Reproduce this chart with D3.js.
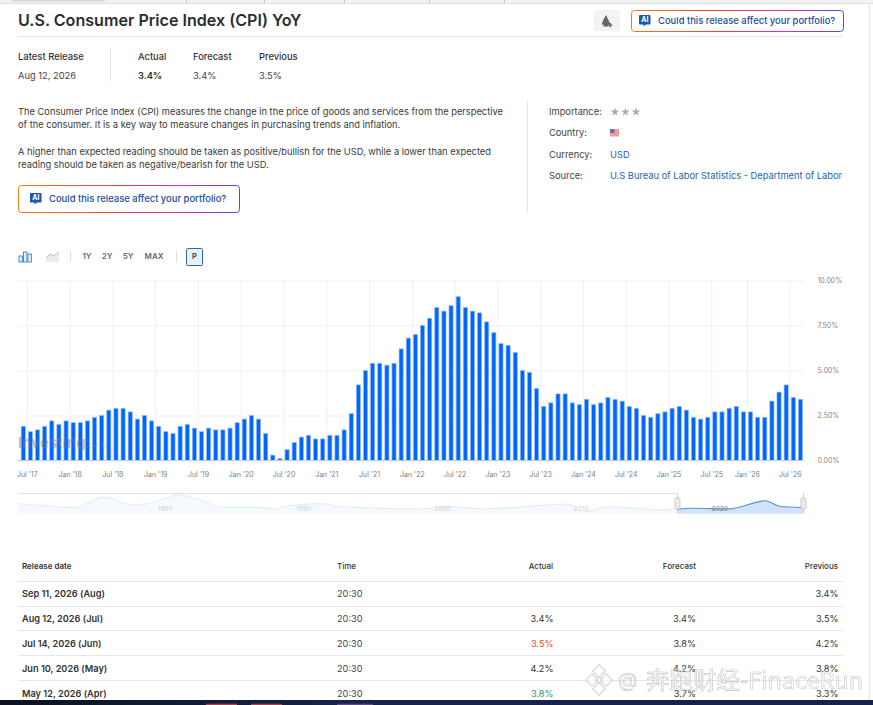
<!DOCTYPE html>
<html>
<head>
<meta charset="utf-8">
<script src="https://cdn.jsdelivr.net/npm/d3@7/dist/d3.min.js"></script>
<style>
html,body{margin:0;padding:0;background:#fff;overflow:hidden}
svg{display:block;font-family:Inter,"Noto Sans",sans-serif}
</style>
</head>
<body>
<svg id="c" width="873" height="705"></svg>
<script>
// ---------- chart data ----------
const releaseMonths = [
"Jun '17","Jul '17","Aug '17","Sep '17","Oct '17","Nov '17","Dec '17",
"Jan '18","Feb '18","Mar '18","Apr '18","May '18","Jun '18","Jul '18","Aug '18","Sep '18","Oct '18","Nov '18","Dec '18",
"Jan '19","Feb '19","Mar '19","Apr '19","May '19","Jun '19","Jul '19","Aug '19","Sep '19","Oct '19","Nov '19","Dec '19",
"Jan '20","Feb '20","Mar '20","Apr '20","May '20","Jun '20","Jul '20","Aug '20","Sep '20","Oct '20","Nov '20","Dec '20",
"Jan '21","Feb '21","Mar '21","Apr '21","May '21","Jun '21","Jul '21","Aug '21","Sep '21","Oct '21","Nov '21","Dec '21",
"Jan '22","Feb '22","Mar '22","Apr '22","May '22","Jun '22","Jul '22","Aug '22","Sep '22","Oct '22","Nov '22","Dec '22",
"Jan '23","Feb '23","Mar '23","Apr '23","May '23","Jun '23","Jul '23","Aug '23","Sep '23","Oct '23","Nov '23","Dec '23",
"Jan '24","Feb '24","Mar '24","Apr '24","May '24","Jun '24","Jul '24","Aug '24","Sep '24","Oct '24","Nov '24","Dec '24",
"Jan '25","Feb '25","Mar '25","Apr '25","May '25","Jun '25","Jul '25","Aug '25","Sep '25","Oct '25","Dec '25",
"Jan '26","Feb '26","Mar '26","Apr '26","May '26","Jun '26","Jul '26","Aug '26"];
const cpiValues = [
1.9,1.6,1.7,1.9,2.2,2.0,2.2,
2.1,2.1,2.2,2.4,2.5,2.8,2.9,2.9,2.7,2.3,2.5,2.2,
1.9,1.6,1.5,1.9,2.0,1.8,1.6,1.8,1.7,1.7,1.8,2.1,
2.3,2.5,2.3,1.5,0.3,0.1,0.6,1.0,1.3,1.4,1.2,1.2,
1.4,1.4,1.7,2.6,4.2,5.0,5.4,5.4,5.3,5.4,6.2,6.8,
7.0,7.5,7.9,8.5,8.3,8.6,9.1,8.5,8.3,8.2,7.7,7.1,
6.5,6.4,6.0,5.0,4.9,4.0,3.0,3.2,3.7,3.7,3.2,3.1,
3.4,3.1,3.2,3.5,3.4,3.3,3.0,2.9,2.5,2.4,2.6,2.7,
2.9,3.0,2.8,2.4,2.3,2.4,2.7,2.7,2.9,3.0,2.7,
2.7,2.4,2.4,3.3,3.8,4.2,3.5,3.4];
const xTickLabels = ["Jul '17","Jan '18","Jul '18","Jan '19","Jul '19","Jan '20","Jul '20","Jan '21","Jul '21","Jan '22","Jul '22","Jan '23","Jul '23","Jan '24","Jul '24","Jan '25","Jul '25","Jan '26","Jul '26"];
const yTickValues = [0,2.5,5,7.5,10];

const navYears  = [1969.4,1971,1973.4,1975.6,1977.6,1979,1981,1982.5,1984.2,1987,1987.8,1989,1991.4,1992.6,1998.6,2000.6,2003,2009,2010.2,2011.9,2015.9,2018,2020.7,2023.3,2024.3,2026];
const navValues = [6.9,5.4,3.5,12.7,6.0,7.5,14.8,10.5,3.5,3.5,2.3,5.3,6.9,4.4,2.3,4.4,2.3,6.6,-0.2,4.4,1.4,2.9,2.3,9.6,4.7,3.5];
const navTickYears = [1980,1990,2000,2010,2020];

const tableHeads = ["Release date","Time","Actual","Forecast","Previous"];
const rowDates = ["Sep 11, 2026 (Aug)","Aug 12, 2026 (Jul)","Jul 14, 2026 (Jun)","Jun 10, 2026 (May)","May 12, 2026 (Apr)"];
const rowTimes = ["20:30","20:30","20:30","20:30","20:30"];
const rowActual = ["","3.4%","3.5%","4.2%","3.8%"];
const rowActualTone = ["","n","r","n","g"];
const rowForecast = ["","3.4%","3.8%","4.2%","3.7%"];
const rowPrevious = ["3.4%","3.5%","4.2%","3.8%","3.3%"];

const description = [
"The Consumer Price Index (CPI) measures the change in the price of goods and services from the perspective",
"of the consumer. It is a key way to measure changes in purchasing trends and inflation.",
"A higher than expected reading should be taken as positive/bullish for the USD, while a lower than expected",
"reading should be taken as negative/bearish for the USD."];
const rangeButtons = ["1Y","2Y","5Y","MAX"];

// ---------- helpers ----------
const svg = d3.select("#c");
const defs = svg.append("defs");
function T(x,y,s,o={}){
  return svg.append("text").attr("x",x).attr("y",y).text(s)
    .attr("font-size",o.size||9.3).attr("font-weight",o.w||400)
    .attr("fill",o.fill||"#333").attr("text-anchor",o.a||"start")
    .attr("dominant-baseline","central");
}
function L(x1,y1,x2,y2,c,w=1){svg.append("line").attr("x1",x1).attr("y1",y1).attr("x2",x2).attr("y2",y2).attr("stroke",c).attr("stroke-width",w);}
const grad = defs.append("linearGradient").attr("id","aiG");
[["0%","#f97a12"],["45%","#ef3b3b"],["70%","#e0309a"],["88%","#8a3be0"],["100%","#3b55e6"]].forEach(s=>grad.append("stop").attr("offset",s[0]).attr("stop-color",s[1]));
function aiButton(x,y,w,h,iconX,textX){
  svg.append("rect").attr("x",x+.5).attr("y",y+.5).attr("width",w).attr("height",h).attr("rx",3)
    .attr("fill","#fff").attr("stroke","url(#aiG)").attr("stroke-width",1);
  const cy=y+h/2;
  svg.append("path").attr("fill","#1c57a8")
    .attr("d",`M${iconX+1} ${cy-5.5}h9.5a1 1 0 0 1 1 1v7.5a1 1 0 0 1 -1 1h-3.5l-2.5 2v-2h-3.5a1 1 0 0 1 -1 -1v-7.5a1 1 0 0 1 1 -1z`);
  T(iconX+5.8,cy-.8,"AI",{size:7,w:700,fill:"#fff",a:"middle"});
  T(textX,cy,"Could this release affect your portfolio?",{size:9.43,w:500,fill:"#1d4e9c"});
}

// ---------- page chrome ----------
svg.append("rect").attr("x",0).attr("y",0).attr("width",873).attr("height",4).attr("fill","#f3f3f3");
L(0,3.5,873,3.5,"#dfdfdf");
svg.append("rect").attr("x",12).attr("y",0).attr("width",93).attr("height",1.5).attr("fill","#d8d8d8");
[186,264,344,429,504].forEach(x=>L(x+.5,0,x+.5,3,"#c8c8c8"));
L(869.5,4,869.5,700,"#e6e6e6");

T(18,20,"U.S. Consumer Price Index (CPI) YoY",{size:16.1,w:600,fill:"#2a2e33"});
L(18,36.5,843,36.5,"#e9e9e9");
svg.append("rect").attr("x",594).attr("y",10).attr("width",26).attr("height",21).attr("rx",3).attr("fill","#f1f3f4");
svg.append("path").attr("fill","#666").attr("d","M606 15l2.5 5 1.5 4h-1l-1 2.5h-4.5v-2h-1.8l1.3-4zM609.5 23h1.5v1.4h1.4v1.4h-1.4v1.4h-1.5v-1.4h-1.4v-1.4h1.4z");
aiButton(631,10,212,21,639,658);

T(18,56,"Latest Release",{w:500,size:9.45});
T(18,75,"Aug 12, 2026",{fill:"#444"});
L(110.5,48,110.5,81,"#e6e6e6");
T(138,56,"Actual",{w:500});
T(193,56,"Forecast",{w:500});
T(259,56,"Previous",{w:500});
T(138,75,"3.4%",{w:600});
T(193,75,"3.4%",{fill:"#444"});
T(259,75,"3.5%",{fill:"#444"});

[111.5,124.5,151.5,164.5].forEach((y,i)=>T(18,y,description[i],{fill:"#3a3a3a"}));
L(527.5,100,527.5,213,"#e6e6e6");
[["Importance:",111.5],["Country:",132.5],["Currency:",154.5],["Source:",175.5]].forEach(d=>T(549,d[1],d[0],{fill:"#444"}));
[615,625.5,636].forEach(x=>{
  const star=d3.symbol().type(d3.symbolStar).size(24)();
  svg.append("path").attr("d",star).attr("transform",`translate(${x},112)`).attr("fill","#adadad");
});
svg.append("rect").attr("x",610).attr("y",129).attr("width",9).attr("height",7.5).attr("fill","#ee9ea3");
svg.append("rect").attr("x",610).attr("y",129).attr("width",4.5).attr("height",4).attr("fill","#6a6fa8");
T(610,154.5,"USD",{fill:"#1e63b0"});
T(610,175.5,"U.S Bureau of Labor Statistics - Department of Labor",{fill:"#1e63b0"});
aiButton(18,185,221,27,30,49);

// ---------- toolbar ----------
[[19,6],[23.5,10],[28,8]].forEach(d=>svg.append("rect").attr("x",d[0]).attr("y",262-d[1]).attr("width",3.4).attr("height",d[1]).attr("fill","#e8f1fa").attr("stroke","#3f7fc0").attr("stroke-width",.9));
svg.append("path").attr("d","M46 258l4-4 4 2 5-4v10h-13z").attr("fill","#ececec");
svg.append("path").attr("d","M46 258l4-4 4 2 5-4").attr("fill","none").attr("stroke","#b5b5b5").attr("stroke-width",.9);
L(70.5,251,70.5,262,"#ddd");
[87,107,128,154].forEach((x,i)=>T(x,256,rangeButtons[i],{size:8,w:600,fill:"#667",a:"middle"}));
L(176.5,251,176.5,262,"#ddd");
svg.append("rect").attr("x",186.5).attr("y",248.5).attr("width",16).attr("height",17).attr("fill","#e8f0f8").attr("stroke","#2a6ab0").attr("rx",1);
T(194.5,256.5,"P",{size:7.5,w:700,fill:"#445",a:"middle"});

// ---------- main chart ----------
const stepPx = 7.13, x0 = 19.7;
const x = d3.scaleBand().domain(releaseMonths).range([x0, x0+stepPx*releaseMonths.length]).paddingInner(.42).paddingOuter(.21);
const xEdge = d3.scalePoint().domain(releaseMonths).range([x0, x0+stepPx*(releaseMonths.length-1)]);
const y = d3.scaleLinear().domain([0,10]).range([460.5,280.5]);

const gx = svg.append("g").attr("transform","translate(0,460)")
  .call(d3.axisBottom(xEdge).tickValues(xTickLabels).tickSize(-180).tickPadding(12));
gx.select(".domain").remove();
gx.selectAll("line").attr("stroke","#f1f1f2").attr("stroke-width",1.1);
gx.selectAll("text").attr("fill","#808080").attr("font-size",7).attr("font-family","Inter,sans-serif");

const gy = svg.append("g").attr("transform","translate(804,0)")
  .call(d3.axisRight(y).tickValues(yTickValues).tickSize(-786).tickPadding(13.5).tickFormat(d=>d.toFixed(2)+"%"));
gy.select(".domain").remove();
gy.selectAll("line").attr("stroke","#f2f2f3").attr("stroke-width",1.1);
gy.selectAll("text").attr("fill","#858585").attr("font-size",7).attr("font-family","Inter,sans-serif");

svg.append("g").selectAll("rect").data(cpiValues).join("rect")
  .attr("x",(d,i)=>x(releaseMonths[i])).attr("width",x.bandwidth())
  .attr("y",d=>y(d)).attr("height",d=>y(0)-y(d))
  .attr("fill","#0066ff").attr("stroke","#8fbaf7").attr("stroke-width",.7);
L(18,460.5,804,460.5,"#c9ccd2",1.2);

defs.append("filter").attr("id","soft").append("feGaussianBlur").attr("stdDeviation",.5);
const wm = svg.append("text").attr("x",18).attr("y",448).attr("filter","url(#soft)").attr("font-family","Inter,sans-serif");
wm.append("tspan").text("Investing").attr("font-size",15).attr("font-weight",700).attr("fill","#777").attr("fill-opacity",.45);
wm.append("tspan").text(".com").attr("font-size",9).attr("fill","#999").attr("fill-opacity",.3);

// ---------- navigator ----------
const nx = d3.scaleLinear().domain([1969.4,2026]).range([18,803]);
const ny = d3.scaleLinear().domain([-2,14.8]).range([513.7,495]);
const navPts = navYears.map((v,i)=>[v,navValues[i]]);
const navArea = d3.area().x(d=>nx(d[0])).y0(513.7).y1(d=>ny(d[1])).curve(d3.curveMonotoneX);
const navLine = d3.line().x(d=>nx(d[0])).y(d=>ny(d[1])).curve(d3.curveMonotoneX);
const clipL = defs.append("clipPath").attr("id","navL"); clipL.append("rect").attr("x",18).attr("y",490).attr("width",659).attr("height",26);
const clipR = defs.append("clipPath").attr("id","navR"); clipR.append("rect").attr("x",677).attr("y",490).attr("width",126).attr("height",26);
svg.append("path").attr("d",navArea(navPts)).attr("fill","#f6f9fd").attr("clip-path","url(#navL)");
svg.append("path").attr("d",navLine(navPts)).attr("fill","none").attr("stroke","#e3ecf6").attr("clip-path","url(#navL)");
svg.append("path").attr("d",navArea(navPts)).attr("fill","#cfe4fb").attr("clip-path","url(#navR)");
svg.append("path").attr("d",navLine(navPts)).attr("fill","none").attr("stroke","#5b93cf").attr("stroke-width",1.1).attr("clip-path","url(#navR)");
navTickYears.forEach(yr=>T(nx(yr),509,String(yr),{size:6.5,fill:yr===2020?"#777":"#d2d2d2",a:"middle"}));
L(18,493.5,677,493.5,"#e0e0e0");
[677,803].forEach(h=>{
  L(h+.5,493,h+.5,513,"#d0d0d0");
  svg.append("rect").attr("x",h-2).attr("y",498).attr("width",5).attr("height",11).attr("rx",1.2).attr("fill","#ececec").attr("stroke","#bcbcbc").attr("stroke-width",.7);
});

// ---------- table ----------
T(22,566,tableHeads[0],{size:8,w:600,fill:"#333"});
T(337,566,tableHeads[1],{size:8,w:500,fill:"#333"});
T(553,566,tableHeads[2],{size:8,w:500,fill:"#333",a:"end"});
T(696,566,tableHeads[3],{size:8,w:500,fill:"#333",a:"end"});
T(838,566,tableHeads[4],{size:8,w:500,fill:"#333",a:"end"});
const rowLineY=[581.5,606.5,630.5,655.5,680.5], rowY=[593,618.5,643.5,668.5,693];
const tone={n:"#333",r:"#f0492a",g:"#2c9a58"};
rowLineY.forEach(v=>L(18,v,843,v,"#e3e7ee"));
rowDates.forEach((d,i)=>{
  T(22,rowY[i],d,{size:9.2,w:600,fill:"#333"});
  T(337,rowY[i],rowTimes[i],{size:9.2,fill:"#444"});
  T(553.5,rowY[i],rowActual[i],{size:9.2,a:"end",fill:tone[rowActualTone[i]]||"#333"});
  T(696,rowY[i],rowForecast[i],{size:9.2,a:"end",fill:"#333"});
  T(838.5,rowY[i],rowPrevious[i],{size:9.2,a:"end",fill:"#333"});
});

// ---------- bottom strip ----------
const bg = defs.append("linearGradient").attr("id","bandG");
bg.append("stop").attr("offset","0%").attr("stop-color","#0c121f");
bg.append("stop").attr("offset","40%").attr("stop-color","#15234a");
svg.append("rect").attr("x",0).attr("y",700).attr("width",873).attr("height",5).attr("fill","url(#bandG)");
[[206,31,"#a8404e"],[251,31,"#a8404e"],[337,36,"#5a4a80"]].forEach(d=>svg.append("rect").attr("x",d[0]).attr("y",703.7).attr("width",d[1]).attr("height",1.3).attr("fill",d[2]));

// ---------- image watermark ----------
const wmGroup = svg.append("g").attr("opacity",.8);
[[599,671,4.5],[592,680,4.5],[606,680,4.5],[599,689,4.5],[599,680,2.5]].forEach(d=>{
  wmGroup.append("rect").attr("x",d[0]-d[2]).attr("y",d[1]-d[2]).attr("width",d[2]*2).attr("height",d[2]*2)
    .attr("transform",`rotate(45 ${d[0]} ${d[1]})`).attr("fill","rgba(255,255,255,.6)").attr("stroke","#c4c4c4").attr("stroke-width",1);
});
wmGroup.append("text").attr("x",618).attr("y",687).text("@").attr("font-size",20).attr("fill","rgba(255,255,255,.5)").attr("stroke","#b4b4b4").attr("stroke-width",.6);
wmGroup.append("text").attr("x",646).attr("y",688.5).text("奔跑财经-FinaceRun").attr("font-size",23.5)
  .attr("font-family","'Noto Sans CJK SC',sans-serif").attr("fill","rgba(255,255,255,.5)").attr("stroke","#b4b4b4").attr("stroke-width",.6);
</script>
</body>
</html>
